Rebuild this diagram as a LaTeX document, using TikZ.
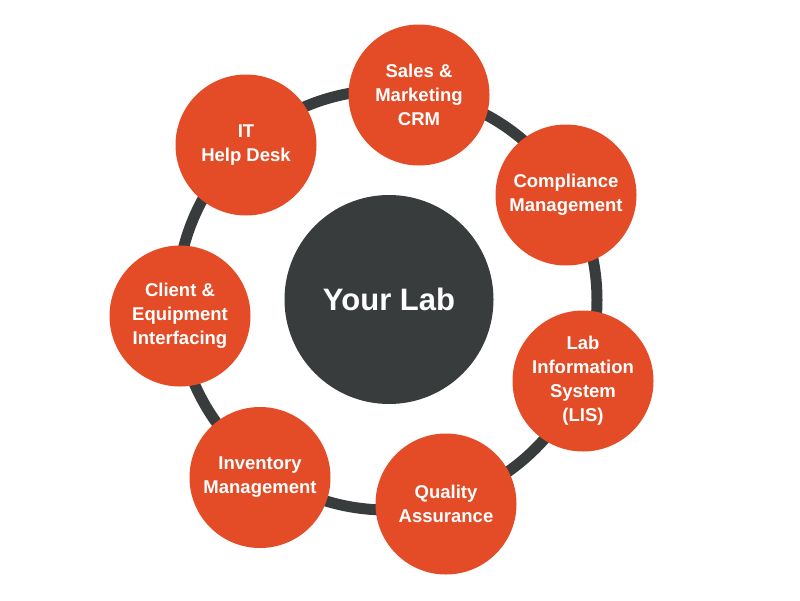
\documentclass[tikz,border=0pt]{standalone}
\usepackage{fontspec}
\setmainfont{Liberation Sans}
\definecolor{labor}{HTML}{E34C26}
\definecolor{labgray}{HTML}{383C3D}
\begin{document}
\begin{tikzpicture}[x=1pt,y=-1pt,
  spoke/.style={circle,fill=labor,minimum size=141pt,inner sep=0pt,align=center,text=white,font=\bfseries\fontsize{18.5}{24}\selectfont},
  hub/.style={circle,fill=labgray,minimum size=209pt,inner sep=0pt,text=white,font=\bfseries\fontsize{31}{36}\selectfont},
  ring/.style={draw=labgray,line width=11pt}]
\useasboundingbox (0,0) rectangle (800,600);
\coordinate (o) at (387,300);
\draw[ring] (o) circle [radius=210pt];
\node[hub] (hub) at (389,299.5) {Your Lab};
\node[spoke] (sales) at (419,95) {Sales \&\\Marketing\\CRM};
\node[spoke] (comp) at (566,195) {Compliance\\Management};
\node[spoke] (lis) at (583,381) {Lab\\Information\\System\\(LIS)};
\node[spoke] (qa) at (446,504) {Quality\\Assurance};
\node[spoke] (inv) at (260,477.5) {Inventory\\Management};
\node[spoke] (client) at (180,316) {Client \&\\Equipment\\Interfacing};
\node[spoke] (it) at (246,145) {IT\\Help Desk};
\end{tikzpicture}
\end{document}
